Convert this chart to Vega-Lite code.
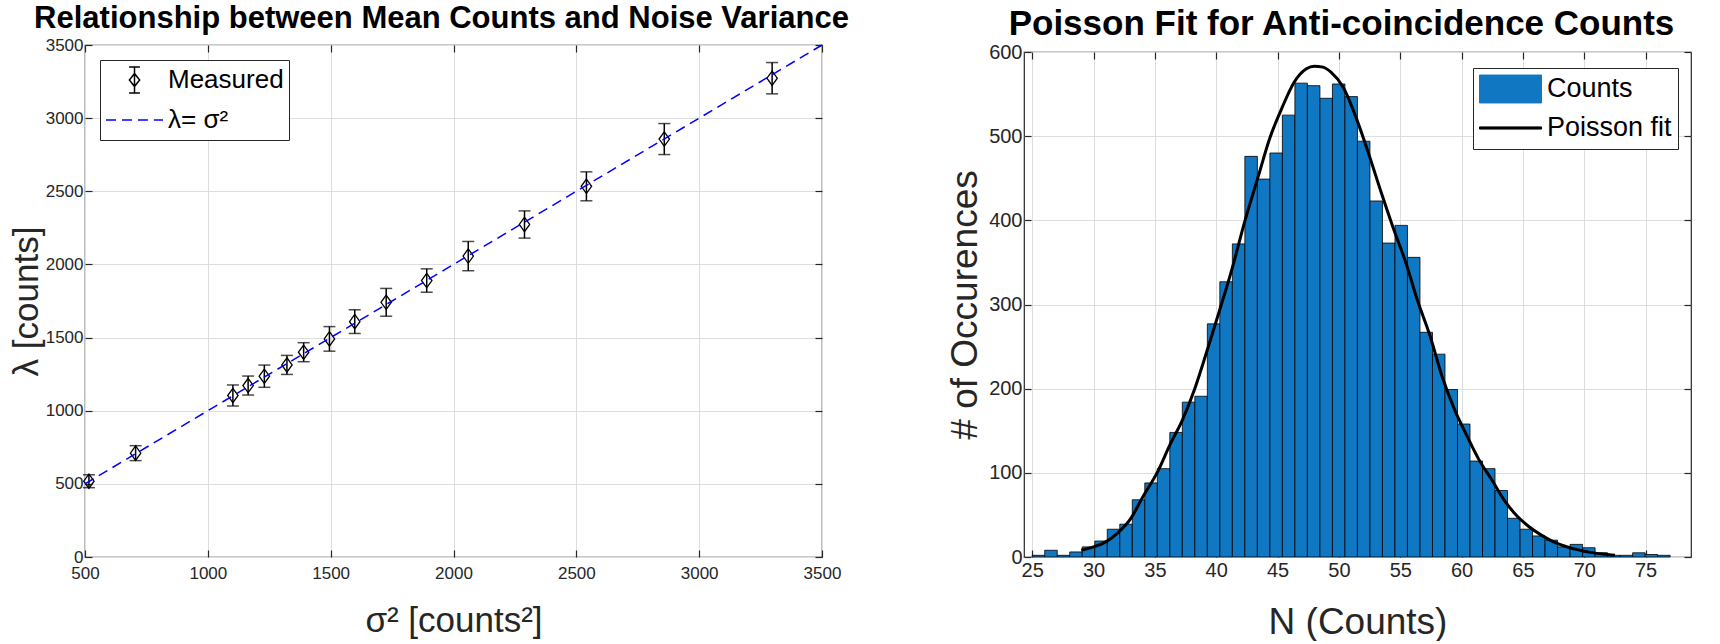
{
  "$schema": "https://vega.github.io/schema/vega-lite/v6.json",
  "background": "white",
  "padding": {"left": 8, "top": 2, "right": 4, "bottom": 0},
  "bounds": "flush",
  "spacing": 202,
  "resolve": {"scale": {"color": "independent", "shape": "independent"}, "legend": {"color": "independent", "shape": "independent"}},
  "config": {
    "font": "Liberation Sans",
    "view": {"stroke": "#262626", "strokeWidth": 1.2},
    "axis": {
      "domain": false,
      "labelFont": "Liberation Sans", "labelColor": "#262626",
      "labelFlush": false, "labelPadding": 9, "format": "d",
      "titleFont": "Liberation Sans", "titleFontWeight": "normal", "titleColor": "#262626",
      "tickColor": "#262626", "tickSize": -7, "tickWidth": 1.2,
      "gridColor": "#dedede", "gridWidth": 1
    },
    "title": {"font": "Liberation Sans", "fontWeight": "bold", "color": "black", "baseline": "alphabetic"},
    "legend": {"labelFont": "Liberation Sans", "labelColor": "black", "strokeColor": "#262626", "fillColor": "white"}
  },
  "datasets": {
    "measured": [
      {"s2": 516, "lam": 518, "err": 44, "series": "Measured"},
      {"s2": 706, "lam": 710, "err": 51, "series": "Measured"},
      {"s2": 1102, "lam": 1104, "err": 72, "series": "Measured"},
      {"s2": 1164, "lam": 1172, "err": 65, "series": "Measured"},
      {"s2": 1230, "lam": 1236, "err": 76, "series": "Measured"},
      {"s2": 1322, "lam": 1313, "err": 65, "series": "Measured"},
      {"s2": 1390, "lam": 1400, "err": 65, "series": "Measured"},
      {"s2": 1495, "lam": 1491, "err": 84, "series": "Measured"},
      {"s2": 1598, "lam": 1609, "err": 81, "series": "Measured"},
      {"s2": 1726, "lam": 1741, "err": 95, "series": "Measured"},
      {"s2": 1891, "lam": 1890, "err": 80, "series": "Measured"},
      {"s2": 2060, "lam": 2057, "err": 100, "series": "Measured"},
      {"s2": 2289, "lam": 2273, "err": 93, "series": "Measured"},
      {"s2": 2541, "lam": 2534, "err": 99, "series": "Measured"},
      {"s2": 2858, "lam": 2857, "err": 106, "series": "Measured"},
      {"s2": 3297, "lam": 3273, "err": 107, "series": "Measured"}
    ],
    "identity": [
      {"s2": 500, "lam": 500, "series": "λ= σ²"},
      {"s2": 3500, "lam": 3500, "series": "λ= σ²"}
    ],
    "hist": [
      {"lo": 25.000, "hi": 26.020, "count": 2, "series": "Counts"},
      {"lo": 26.020, "hi": 27.039, "count": 8, "series": "Counts"},
      {"lo": 27.039, "hi": 28.059, "count": 2, "series": "Counts"},
      {"lo": 28.059, "hi": 29.078, "count": 6, "series": "Counts"},
      {"lo": 29.078, "hi": 30.098, "count": 12, "series": "Counts"},
      {"lo": 30.098, "hi": 31.118, "count": 19, "series": "Counts"},
      {"lo": 31.118, "hi": 32.137, "count": 33, "series": "Counts"},
      {"lo": 32.137, "hi": 33.157, "count": 39, "series": "Counts"},
      {"lo": 33.157, "hi": 34.176, "count": 68, "series": "Counts"},
      {"lo": 34.176, "hi": 35.196, "count": 88, "series": "Counts"},
      {"lo": 35.196, "hi": 36.216, "count": 105, "series": "Counts"},
      {"lo": 36.216, "hi": 37.235, "count": 148, "series": "Counts"},
      {"lo": 37.235, "hi": 38.255, "count": 184, "series": "Counts"},
      {"lo": 38.255, "hi": 39.275, "count": 191, "series": "Counts"},
      {"lo": 39.275, "hi": 40.294, "count": 277, "series": "Counts"},
      {"lo": 40.294, "hi": 41.314, "count": 327, "series": "Counts"},
      {"lo": 41.314, "hi": 42.333, "count": 372, "series": "Counts"},
      {"lo": 42.333, "hi": 43.353, "count": 476, "series": "Counts"},
      {"lo": 43.353, "hi": 44.373, "count": 449, "series": "Counts"},
      {"lo": 44.373, "hi": 45.392, "count": 480, "series": "Counts"},
      {"lo": 45.392, "hi": 46.412, "count": 525, "series": "Counts"},
      {"lo": 46.412, "hi": 47.431, "count": 563, "series": "Counts"},
      {"lo": 47.431, "hi": 48.451, "count": 560, "series": "Counts"},
      {"lo": 48.451, "hi": 49.471, "count": 545, "series": "Counts"},
      {"lo": 49.471, "hi": 50.490, "count": 562, "series": "Counts"},
      {"lo": 50.490, "hi": 51.510, "count": 547, "series": "Counts"},
      {"lo": 51.510, "hi": 52.529, "count": 494, "series": "Counts"},
      {"lo": 52.529, "hi": 53.549, "count": 423, "series": "Counts"},
      {"lo": 53.549, "hi": 54.569, "count": 373, "series": "Counts"},
      {"lo": 54.569, "hi": 55.588, "count": 394, "series": "Counts"},
      {"lo": 55.588, "hi": 56.608, "count": 356, "series": "Counts"},
      {"lo": 56.608, "hi": 57.627, "count": 267, "series": "Counts"},
      {"lo": 57.627, "hi": 58.647, "count": 241, "series": "Counts"},
      {"lo": 58.647, "hi": 59.667, "count": 199, "series": "Counts"},
      {"lo": 59.667, "hi": 60.686, "count": 158, "series": "Counts"},
      {"lo": 60.686, "hi": 61.706, "count": 114, "series": "Counts"},
      {"lo": 61.706, "hi": 62.725, "count": 105, "series": "Counts"},
      {"lo": 62.725, "hi": 63.745, "count": 79, "series": "Counts"},
      {"lo": 63.745, "hi": 64.765, "count": 46, "series": "Counts"},
      {"lo": 64.765, "hi": 65.784, "count": 33, "series": "Counts"},
      {"lo": 65.784, "hi": 66.804, "count": 25, "series": "Counts"},
      {"lo": 66.804, "hi": 67.824, "count": 20, "series": "Counts"},
      {"lo": 67.824, "hi": 68.843, "count": 12, "series": "Counts"},
      {"lo": 68.843, "hi": 69.863, "count": 15, "series": "Counts"},
      {"lo": 69.863, "hi": 70.882, "count": 11, "series": "Counts"},
      {"lo": 70.882, "hi": 71.902, "count": 5, "series": "Counts"},
      {"lo": 71.902, "hi": 72.922, "count": 2, "series": "Counts"},
      {"lo": 72.922, "hi": 73.941, "count": 2, "series": "Counts"},
      {"lo": 73.941, "hi": 74.961, "count": 5, "series": "Counts"},
      {"lo": 74.961, "hi": 75.980, "count": 3, "series": "Counts"},
      {"lo": 75.980, "hi": 77.000, "count": 2, "series": "Counts"}
    ],
    "fit": [
      {"n": 29.0, "fit": 8, "series": "Poisson fit"},
      {"n": 30.0, "fit": 12, "series": "Poisson fit"},
      {"n": 31.0, "fit": 18, "series": "Poisson fit"},
      {"n": 32.0, "fit": 29, "series": "Poisson fit"},
      {"n": 33.0, "fit": 45, "series": "Poisson fit"},
      {"n": 34.0, "fit": 71, "series": "Poisson fit"},
      {"n": 35.25, "fit": 102, "series": "Poisson fit"},
      {"n": 36.25, "fit": 134, "series": "Poisson fit"},
      {"n": 37.25, "fit": 163, "series": "Poisson fit"},
      {"n": 38.25, "fit": 200, "series": "Poisson fit"},
      {"n": 39.25, "fit": 245, "series": "Poisson fit"},
      {"n": 40.25, "fit": 292, "series": "Poisson fit"},
      {"n": 41.3, "fit": 343, "series": "Poisson fit"},
      {"n": 42.35, "fit": 400, "series": "Poisson fit"},
      {"n": 43.4, "fit": 451, "series": "Poisson fit"},
      {"n": 44.35, "fit": 497, "series": "Poisson fit"},
      {"n": 45.4, "fit": 535, "series": "Poisson fit"},
      {"n": 46.35, "fit": 564, "series": "Poisson fit"},
      {"n": 47.35, "fit": 580, "series": "Poisson fit"},
      {"n": 48.0, "fit": 583, "series": "Poisson fit"},
      {"n": 48.7, "fit": 582, "series": "Poisson fit"},
      {"n": 49.35, "fit": 576, "series": "Poisson fit"},
      {"n": 50.35, "fit": 558, "series": "Poisson fit"},
      {"n": 51.4, "fit": 522, "series": "Poisson fit"},
      {"n": 52.45, "fit": 478, "series": "Poisson fit"},
      {"n": 53.45, "fit": 433, "series": "Poisson fit"},
      {"n": 54.45, "fit": 390, "series": "Poisson fit"},
      {"n": 55.45, "fit": 350, "series": "Poisson fit"},
      {"n": 56.4, "fit": 305, "series": "Poisson fit"},
      {"n": 57.4, "fit": 264, "series": "Poisson fit"},
      {"n": 58.4, "fit": 215, "series": "Poisson fit"},
      {"n": 59.4, "fit": 176, "series": "Poisson fit"},
      {"n": 60.4, "fit": 145, "series": "Poisson fit"},
      {"n": 61.4, "fit": 116, "series": "Poisson fit"},
      {"n": 62.45, "fit": 92, "series": "Poisson fit"},
      {"n": 63.5, "fit": 67, "series": "Poisson fit"},
      {"n": 64.5, "fit": 49, "series": "Poisson fit"},
      {"n": 65.5, "fit": 36, "series": "Poisson fit"},
      {"n": 66.5, "fit": 26, "series": "Poisson fit"},
      {"n": 67.5, "fit": 18, "series": "Poisson fit"},
      {"n": 68.5, "fit": 12.5, "series": "Poisson fit"},
      {"n": 69.5, "fit": 8.5, "series": "Poisson fit"},
      {"n": 70.5, "fit": 5.5, "series": "Poisson fit"},
      {"n": 71.5, "fit": 3.5, "series": "Poisson fit"},
      {"n": 72.5, "fit": 2, "series": "Poisson fit"}
    ]
  },
  "hconcat": [
    {
      "width": 737,
      "height": 512,
      "title": {"text": "Relationship between Mean Counts and Noise Variance", "offset": 1, "fontSize": 31, "dx": -12},
      "resolve": {"axis": {"x": "independent", "y": "independent"}},
      "layer": [
        {
          "data": {"name": "measured"},
          "mark": {"type": "point", "shape": "M0,-1.1L0.8,0L0,1.1L-0.8,0Z", "size": 170, "filled": false, "strokeWidth": 1.3, "opacity": 1},
          "encoding": {
            "x": {"field": "s2", "type": "quantitative", "scale": {"domain": [500, 3500], "nice": false, "zero": false},
                  "axis": {"orient": "bottom", "title": "σ² [counts²]", "values": [500, 1000, 1500, 2000, 2500, 3000, 3500], "grid": true,
                           "labelFontSize": 17, "labelPadding": 15, "titleFontSize": 35, "titlePadding": 22}},
            "y": {"field": "lam", "type": "quantitative", "scale": {"domain": [0, 3500], "nice": false},
                  "axis": {"orient": "left", "title": "λ [counts]", "values": [0, 500, 1000, 1500, 2000, 2500, 3000, 3500], "grid": true,
                           "labelFontSize": 17, "titleFontSize": 35, "titlePadding": 1}},
            "color": {
              "field": "series", "type": "nominal",
              "scale": {"domain": ["Measured", "λ= σ²"], "range": ["black", "#0000ff"]},
              "legend": {"title": null, "orient": "top-left", "offset": 15, "padding": 5, "rowPadding": 10,
                         "symbolSize": 3249, "clipHeight": 30, "labelOffset": 4, "labelFontSize": 26,
                         "symbolOpacity": 1, "symbolStrokeWidth": 1.5, "symbolFillColor": "transparent"}
            }
          }
        },
        {
          "data": {"name": "measured"},
          "mark": {"type": "errorbar", "ticks": true, "size": 12, "thickness": 1.5, "color": "black"},
          "encoding": {
            "x": {"field": "s2", "type": "quantitative", "axis": null},
            "y": {"field": "lam", "type": "quantitative", "axis": null},
            "yError": {"field": "err"}
          }
        },
        {
          "data": {"name": "identity"},
          "mark": {"type": "line", "strokeDash": [10, 6], "strokeWidth": 1.5},
          "encoding": {
            "x": {"field": "s2", "type": "quantitative",
                  "axis": {"orient": "top", "labels": false, "grid": false, "title": null, "values": [500, 1000, 1500, 2000, 2500, 3000, 3500]}},
            "y": {"field": "lam", "type": "quantitative",
                  "axis": {"orient": "right", "labels": false, "grid": false, "title": null, "values": [0, 500, 1000, 1500, 2000, 2500, 3000, 3500]}},
            "color": {"field": "series", "type": "nominal"}
          }
        },
        {
          "data": {"name": "identity"},
          "mark": {"type": "point", "filled": false, "opacity": 0, "strokeWidth": 1.5},
          "encoding": {
            "x": {"field": "s2", "type": "quantitative", "axis": null},
            "y": {"field": "lam", "type": "quantitative", "axis": null},
            "color": {"field": "series", "type": "nominal"},
            "shape": {
              "field": "series", "type": "nominal",
              "scale": {"domain": ["Measured", "λ= σ²"],
                        "range": ["M0,-0.23L0.18,0L0,0.23L-0.18,0Z M0,-0.46V0.46 M-0.19,-0.46H0.19 M-0.19,0.46H0.19",
                                  "M-1,0H-0.65 M-0.44,0H-0.09 M0.12,0H0.47 M0.68,0H1"]},
              "legend": {"title": null, "orient": "top-left", "offset": 15, "padding": 5, "rowPadding": 10,
                         "symbolSize": 3249, "clipHeight": 30, "labelOffset": 4, "labelFontSize": 26,
                         "symbolOpacity": 1, "symbolStrokeWidth": 1.5, "symbolFillColor": "transparent"}
            }
          }
        }
      ]
    },
    {
      "bounds": "flush",
      "spacing": 0,
      "resolve": {"scale": {"color": "independent", "shape": "independent"}, "legend": {"color": "independent", "shape": "independent"}},
      "vconcat": [
        {
          "width": 667,
          "height": 7,
          "data": {"values": []},
          "mark": {"type": "point", "opacity": 0},
          "view": {"stroke": null}
        },
        {
          "width": 667,
          "height": 505,
          "title": {"text": "Poisson Fit for Anti-coincidence Counts", "offset": 0, "fontSize": 35, "dx": -16},
          "resolve": {"axis": {"x": "independent", "y": "independent"}},
          "layer": [
            {
              "data": {"name": "hist"},
              "mark": {"type": "bar", "stroke": "black", "strokeWidth": 0.8, "opacity": 1},
              "encoding": {
                "x": {"field": "lo", "type": "quantitative", "scale": {"domain": [24.33, 78.7], "nice": false, "zero": false},
                      "axis": {"orient": "bottom", "title": "N (Counts)", "values": [25, 30, 35, 40, 45, 50, 55, 60, 65, 70, 75], "grid": true,
                               "labelFontSize": 20, "labelPadding": 10, "titleFontSize": 37, "titlePadding": 24}},
                "x2": {"field": "hi"},
                "y": {"field": "count", "type": "quantitative", "scale": {"domain": [0, 600], "nice": false},
                      "axis": {"orient": "left", "title": "# of Occurences", "values": [0, 100, 200, 300, 400, 500, 600], "grid": true,
                               "labelFontSize": 20, "titleFontSize": 37, "titlePadding": 4}},
                "y2": {"datum": 0},
                "color": {
                  "field": "series", "type": "nominal",
                  "scale": {"domain": ["Counts", "Poisson fit"], "range": ["#1077c3", "black"]},
                  "legend": {"title": null, "orient": "none", "legendX": 449, "legendY": 16, "padding": 6, "rowPadding": 9,
                             "symbolSize": 3844, "clipHeight": 30, "labelOffset": 5, "labelFontSize": 27,
                             "symbolOpacity": 1, "symbolStrokeColor": "black", "symbolStrokeWidth": 1}
                }
              }
            },
            {
              "data": {"name": "fit"},
              "mark": {"type": "line", "strokeWidth": 3, "interpolate": "monotone"},
              "encoding": {
                "x": {"field": "n", "type": "quantitative",
                      "axis": {"orient": "top", "labels": false, "grid": false, "title": null, "values": [25, 30, 35, 40, 45, 50, 55, 60, 65, 70, 75]}},
                "y": {"field": "fit", "type": "quantitative",
                      "axis": {"orient": "right", "labels": false, "grid": false, "title": null, "values": [0, 100, 200, 300, 400, 500, 600]}},
                "color": {"field": "series", "type": "nominal"}
              }
            },
            {
              "data": {"name": "fit"},
              "mark": {"type": "point", "filled": true, "opacity": 0},
              "encoding": {
                "x": {"field": "n", "type": "quantitative", "axis": null},
                "y": {"field": "fit", "type": "quantitative", "axis": null},
                "color": {"field": "series", "type": "nominal"},
                "shape": {
                  "field": "series", "type": "nominal",
                  "scale": {"domain": ["Counts", "Poisson fit"], "range": ["M-1,-0.45H1V0.45H-1Z", "M-1,-0.035H1V0.035H-1Z"]},
                  "legend": {"title": null, "orient": "none", "legendX": 449, "legendY": 16, "padding": 6, "rowPadding": 9,
                             "symbolSize": 3844, "clipHeight": 30, "labelOffset": 5, "labelFontSize": 27,
                             "symbolOpacity": 1, "symbolStrokeColor": "black", "symbolStrokeWidth": 1}
                }
              }
            }
          ]
        }
      ]
    }
  ]
}
